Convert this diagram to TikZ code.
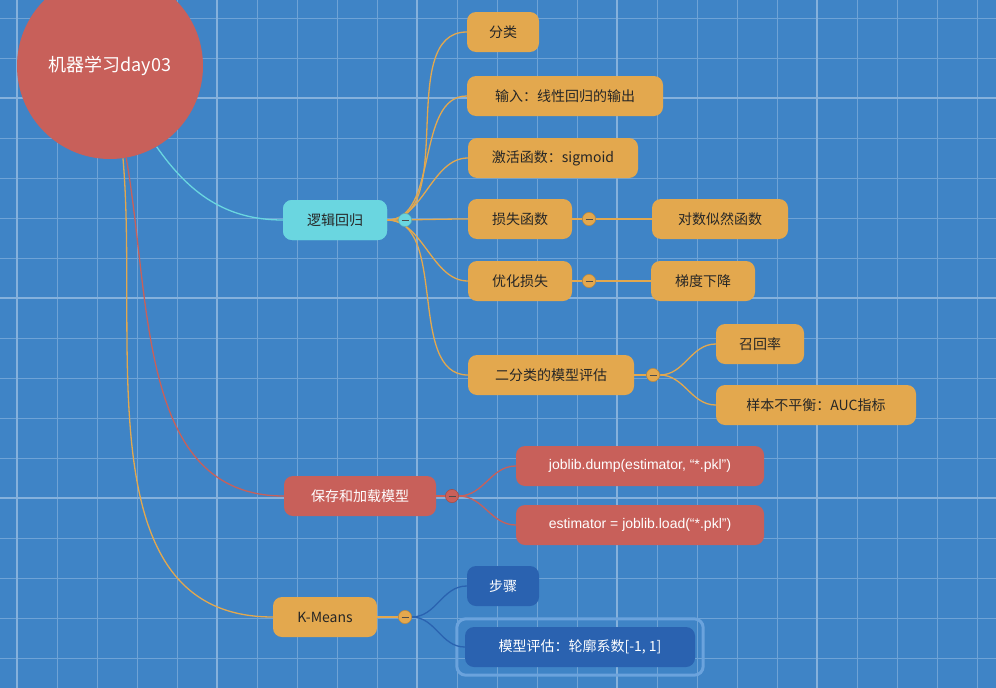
\documentclass[tikz,border=0pt]{standalone}
\usepackage{fontspec}
\setmainfont{Noto Sans CJK SC}
\newfontfamily\latf{Liberation Sans}
\begin{document}
\begin{tikzpicture}[x=1pt,y=-1pt,
  box/.style={rounded corners=9pt,minimum height=40pt,inner sep=0pt,font=\fontsize{14}{16}\selectfont},
  ob/.style={box,fill=ora,text=black!85},
  rb/.style={box,fill=redn,text=white},
  bb/.style={box,fill=bluen,text=white},
  dot/.style={circle,minimum size=13pt,inner sep=0pt,draw=#1!80!black,fill=#1},
  ol/.style={draw=ora,line width=1.3pt},
  rl/.style={draw=redn,line width=1.3pt},
  bl/.style={draw=bluen,line width=1.3pt}]
\definecolor{bg}{HTML}{3F84C6}
\definecolor{gridc}{HTML}{6FA3D6}
\definecolor{ora}{HTML}{E3A84E}
\definecolor{redn}{HTML}{C8605A}
\definecolor{bluen}{HTML}{2A62B0}
\definecolor{cyann}{HTML}{6AD6E0}
\fill[bg] (0,0) rectangle (996,688);
\useasboundingbox (0,0) rectangle (996,688);
\foreach \x in {17,57,...,996} \draw[gridc,line width=0.8pt] (\x,0)--(\x,688);
\foreach \y in {18,58,...,688} \draw[gridc,line width=0.8pt] (0,\y)--(996,\y);
\foreach \x in {17,217,...,996} \draw[gridc!85!white,line width=1.1pt] (\x,0)--(\x,688);
\foreach \y in {98,298,...,688} \draw[gridc!85!white,line width=1.1pt] (0,\y)--(996,\y);
% nodes
\node[box,fill=cyann,text=black!85,minimum width=104pt] (lr) at (335,220) {逻辑回归};
\node[ob,minimum width=72pt] (a1) at (503,32) {分类};
\node[ob,minimum width=196pt] (a2) at (565,96) {输入：线性回归的输出};
\node[ob,minimum width=170pt] (a3) at (553,158) {激活函数：sigmoid};
\node[ob,minimum width=104pt] (a4) at (520,219) {损失函数};
\node[ob,minimum width=136pt] (b4) at (720,219) {对数似然函数};
\node[ob,minimum width=104pt] (a5) at (520,281) {优化损失};
\node[ob,minimum width=104pt] (b5) at (703,281) {梯度下降};
\node[ob,minimum width=166pt] (a6) at (551,375) {二分类的模型评估};
\node[ob,minimum width=88pt] (c1) at (760,344) {召回率};
\node[ob,minimum width=200pt] (c2) at (816,405) {样本不平衡：AUC指标};
\node[rb,minimum width=152pt] (sv) at (360,496) {保存和加载模型};
\node[rb,minimum width=248pt] (d1) at (640,466) {\latf joblib.dump(estimator, “*.pkl”)};
\node[rb,minimum width=248pt] (d2) at (640,525) {\latf estimator = joblib.load(“*.pkl”)};
\node[ob,minimum width=104pt] (km) at (325,617) {K-Means};
\node[bb,minimum width=72pt] (e1) at (503,586) {步骤};
\node[bb,minimum width=230pt] (e2) at (580,647) {模型评估：轮廓系数[-1, 1]};
\draw[draw=cyan!60!blue!60!white,line width=3pt,rounded corners=9pt] ([shift={(-8,-8)}]e2.north west) rectangle ([shift={(8,8)}]e2.south east);
\node[dot=cyann] (p0) at (405,220) {};
\node[dot=ora] (p4) at (589,219) {};
\node[dot=ora] (p5) at (589,281) {};
\node[dot=ora] (p6) at (653,375) {};
\node[dot=redn] (ps) at (452,496) {};
\node[dot=ora] (pk) at (405,617) {};
\node[circle,minimum size=186pt] (root) at (110,66) {};
% connectors
\coordinate (g) at (185,-2);
\draw[green!70!white,line width=1.3pt] (root.60) to[out=45,in=220] (g);
\draw[draw=cyann,line width=1.3pt] (root.-60) to[out=-55,in=180] (lr.west);
\draw[rl] (root.-80) to[out=-80,in=180] (sv.west);
\draw[ol] (root.-82) to[out=-85,in=180] (km.west);
\foreach \c in {a1,a2,a3,a4,a5,a6} \draw[ol] (lr.east) to[out=0,in=180,looseness=0.9] (\c.west);
\draw[ol] (p4)--(b4.west);
\draw[ol] (p5)--(b5.west);
\draw[ol] (a4.east)--(p4); \draw[ol] (a5.east)--(p5); \draw[ol] (a6.east)--(p6);
\draw[ol] (p6) to[out=0,in=180] (c1.west);
\draw[ol] (p6) to[out=0,in=180] (c2.west);
\draw[rl] (sv.east)--(ps);
\draw[rl] (ps) to[out=0,in=180] (d1.west);
\draw[rl] (ps) to[out=0,in=180] (d2.west);
\draw[ol] (km.east)--(pk);
\draw[bl] (pk) to[out=0,in=180] (e1.west);
\draw[bl] (pk) to[out=0,in=180] (e2.west);
% nodes over lines
\node[circle,fill=redn,minimum size=186pt,text=white,font=\fontsize{18}{20}\selectfont] at (110,66) {\raisebox{-4pt}{机器学习day03}};
\node[box,fill=cyann,text=black!85,minimum width=104pt] at (335,220) {逻辑回归};
\node[dot=cyann] at (405,220) {};
\node[dot=ora] at (589,219) {};
\node[dot=ora] at (589,281) {};
\node[dot=ora] at (653,375) {};
\node[dot=redn] at (452,496) {};
\node[dot=ora] at (405,617) {};
\foreach \p in {p0,p4,p5,p6,ps,pk} \draw[black!70,line width=1pt] ([xshift=-3.5pt]\p.center)--([xshift=3.5pt]\p.center);
\end{tikzpicture}
\end{document}
